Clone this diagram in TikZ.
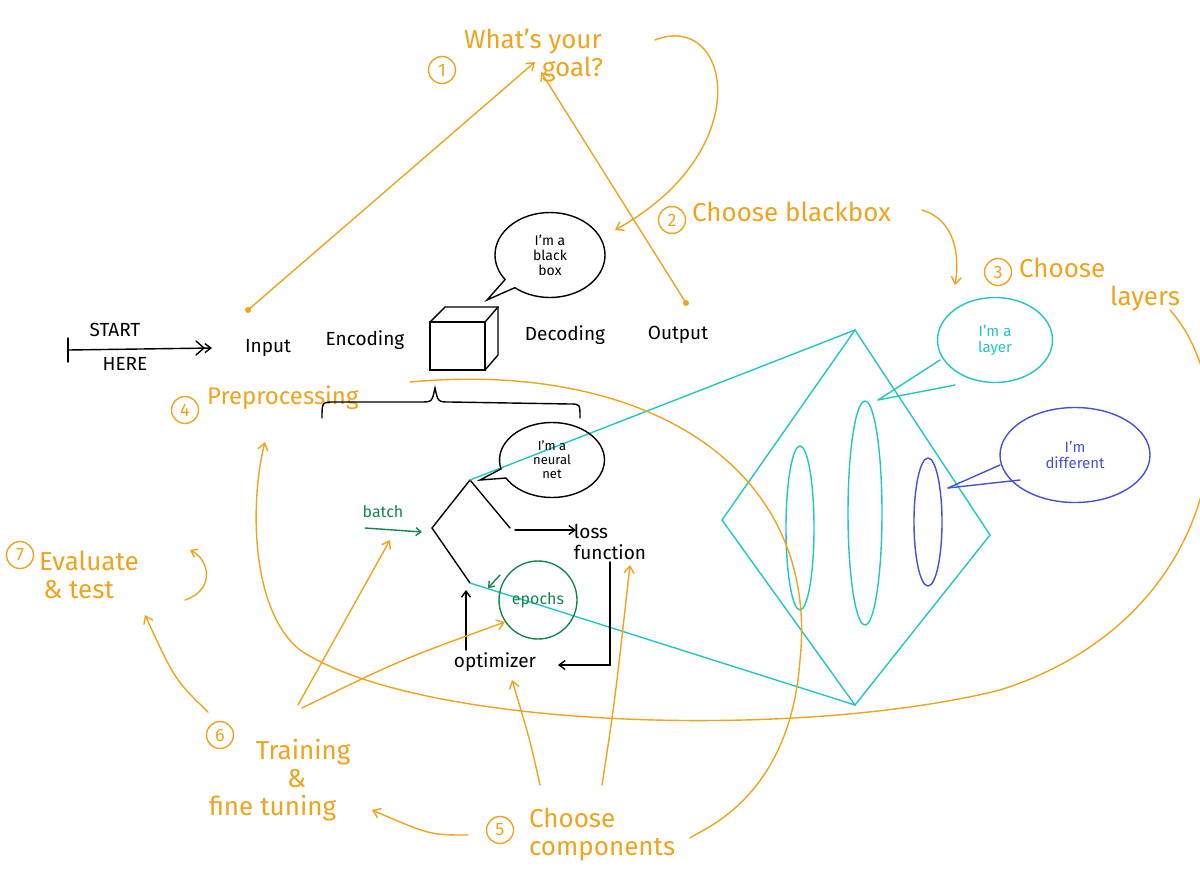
\documentclass[tikz,border=0pt]{standalone}
\usepackage{fontspec}
\setmainfont{Fira Sans}
\usetikzlibrary{arrows.meta,shapes.geometric,shapes.callouts}
\definecolor{org}{HTML}{F0A41E}
\definecolor{cy}{HTML}{22C7C2}
\definecolor{bl}{HTML}{4652D6}
\definecolor{gr}{HTML}{15864E}
\begin{document}
\begin{tikzpicture}[x=1pt,y=-1pt,line width=1.4pt,line cap=round,
 otxt/.style={text=org,font=\fontsize{26}{28}\selectfont,align=center},
 btxt/.style={text=black,font=\fontsize{19}{21}\selectfont,align=center},
 oarr/.style={draw=org,-{Straight Barb[length=7pt,width=10pt]}},
 barr/.style={draw=black,-{Straight Barb[length=6pt,width=9pt]}},
 num/.style={circle,draw=org,inner sep=0pt,minimum size=27pt,text=org,font=\fontsize{18}{20}\selectfont}]
\useasboundingbox[fill=white] (0,0) rectangle (1200,892);
% goal
\node[num] (n1) at (442,70) {1};
\node[otxt,anchor=west,align=left] (goal) at (460,55) {What's your\\\hspace{3em}goal?};
% input row
\coordinate (bar) at (68,350);
\draw (68,338) -- (68,362);
\node[btxt] (start) at (115,330) {START};
\node[btxt] (here) at (125,364) {HERE};
\coordinate (arrEnd) at (212,348);
\draw[barr] (bar) -- (arrEnd);
\draw (196,341)--(204,348)--(196,355);
\node[btxt] (inp) at (268,348) {Input};
\node[btxt] (enc) at (365,340) {Encoding};
\node[btxt] (dec) at (565,335) {Decoding};
\node[btxt] (out) at (678,335) {Output};
% cube
\draw (430,322) rectangle (485,370);
\draw (430,322) -- (445,307) -- (498,307) -- (498,355) -- (485,370);
\draw (485,322) -- (498,307);
% black box bubble
\node[ellipse callout,draw,callout absolute pointer={(487,300)},minimum width=110,minimum height=85,font=\fontsize{14}{15}\selectfont,align=center] (bb) at (550,255) {I'm a\\black\\box};
% dots and arrows to goal
\fill[org] (248,310) circle (3);
\fill[org] (686,303) circle (3);
\coordinate (inpDot) at (248,310);
\coordinate (outDot) at (686,303);
\draw[oarr] (inpDot) -- (535,62);
\draw[oarr] (outDot) -- (541,72);
\coordinate (gb) at (615,230);
\draw[oarr] (655,40) .. controls (730,10) and (760,150) .. (gb);
% blackbox
\node[num] (n2) at (672,220) {2};
\node[otxt,anchor=west] (cbb) at (688,212) {Choose blackbox};
\draw[oarr] (922,210) .. controls (955,220) and (960,255) .. (955,285);
% layers
\node[num] (n3) at (998,272) {3};
\node[otxt,anchor=west,align=left] (cl) at (1015,285) {Choose\\\hspace{3.5em}layers};
% cyan diamond
\coordinate (dt) at (855,330);
\coordinate (dl) at (722,520);
\coordinate (dr) at (990,535);
\coordinate (db) at (855,705);
\draw[cy] (dt)--(dl)--(db)--(dr)--cycle;
\draw[cy] (800,528) ellipse (14 and 82);
\draw[cy] (865,513) ellipse (17 and 112);
\draw[bl] (928,522) ellipse (14 and 64);
\node[ellipse,draw=cy,text=cy,minimum width=115,minimum height=85,font=\fontsize{15}{16}\selectfont,align=center] (il) at (995,340) {I'm a\\layer};
\draw[cy] (878,400) -- (940,360);
\draw[cy] (878,400) -- (955,385);
\node[ellipse,draw=bl,text=bl,minimum width=150,minimum height=95,font=\fontsize{15}{16}\selectfont,align=center] (id) at (1075,455) {I'm\\different};
\draw[bl] (948,488) -- (1000,465);
\draw[bl] (948,488) -- (1020,480);
% neural net
\coordinate (nt) at (470,480);
\coordinate (nl) at (432,528);
\coordinate (nr) at (510,528);
\coordinate (nb) at (470,583);
\draw (nt)--(nl)--(nb); \draw (nt)--(nr);
\draw[cy] (nt) -- (dt);
\draw[cy] (nb) -- (db);
\node[ellipse callout,draw,callout absolute pointer={(480,480)},minimum width=105,minimum height=75,font=\fontsize{13}{14}\selectfont,align=center] (nn) at (552,460) {I'm a\\neural\\net};
\node[text=gr,font=\fontsize{16}{17}\selectfont] (batch) at (383,512) {batch};
\draw[gr,-{Straight Barb[length=5pt,width=8pt]}] (365,528) -- (422,532);
\node[btxt,align=left] (loss) at (610,542) {loss\\function};
\draw[barr] (515,530) -- (576,530);
\node[btxt] (opt) at (495,662) {optimizer};
\draw[barr] (466,650) -- (466,590);
\draw[barr] (610,562) -- (610,665) -- (558,665);
\node[circle,draw=gr,text=gr,minimum size=78,font=\fontsize{16}{17}\selectfont] (ep) at (538,600) {epochs};
\draw[gr,-{Straight Barb[length=5pt,width=8pt]}] (500,575) -- (488,588);
% preprocessing
\node[num] (n4) at (185,410) {4};
\node[otxt,anchor=west,font=\fontsize{24}{26}\selectfont] (pre) at (203,398) {Preprocessing};
\draw (322,418) .. controls (322,402) .. (335,402) -- (420,402) .. controls (432,402) .. (435,388)
  .. controls (438,402) .. (450,402) -- (570,404) .. controls (580,404) .. (580,418);
% components
\node[num] (n5) at (500,830) {5};
\node[otxt,anchor=west,align=left] (cc) at (525,835) {Choose\\components};
\draw[oarr] (540,785) .. controls (530,740) .. (512,680);
\draw[oarr] (602,785) .. controls (615,700) .. (630,565);
\draw[oarr] (468,835) .. controls (430,835) .. (372,810);
% training
\node[num] (n6) at (220,735) {6};
\node[otxt,anchor=west,align=left] (tr) at (205,780) {\hspace{1.8em}Training\\\hspace{3em}\&\\fine tuning};
\draw[oarr] (298,705) -- (390,540);
\draw[oarr] (302,708) .. controls (400,660) .. (505,622);
\draw[oarr] (208,712) .. controls (175,680) .. (145,615);
% evaluate
\node[num] (n7) at (20,555) {7};
\node[otxt,anchor=west,align=left] (ev) at (35,575) {Evaluate\\\,\& test};
\draw[org,-{Straight Barb[length=6pt,width=9pt]}] (185,600) .. controls (215,590) and (210,560) .. (190,550);
% big curves
\draw[org] (410,382) .. controls (650,360) and (820,470) .. (800,660) .. controls (790,800) and (700,830) .. (690,838);
\draw[oarr] (1170,310) .. controls (1250,400) and (1220,620) .. (1000,690)
   .. controls (800,740) and (420,730) .. (300,650) .. controls (250,610) and (250,500) .. (265,442);
\end{tikzpicture}
\end{document}
